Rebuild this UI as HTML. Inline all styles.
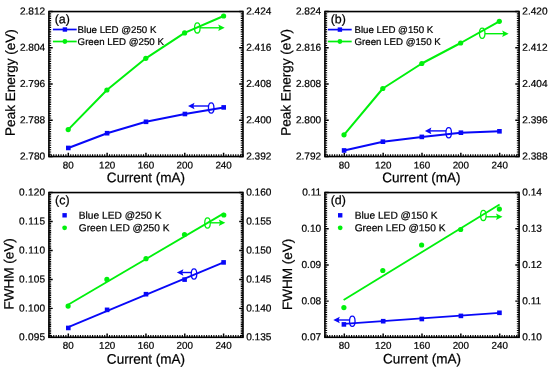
<!DOCTYPE html>
<html><head><meta charset="utf-8"><title>LED peak energy and FWHM vs current</title>
<style>
html,body{margin:0;padding:0;background:#fff;}
svg{display:block;}
text{font-family:"Liberation Sans", sans-serif;fill:#000;stroke:#000;stroke-width:0.22px;}
</style></head>
<body>
<svg width="550" height="370" viewBox="0 0 550 370">
<rect width="550" height="370" fill="#fff"/>
<path d="M48.90 156.55v-2.25M51.33 156.55v-2.25M53.75 156.55v-2.25M56.18 156.55v-2.25M58.60 156.55v-2.25M61.03 156.55v-2.25M63.46 156.55v-2.25M65.88 156.55v-2.25M70.74 156.55v-2.25M73.16 156.55v-2.25M75.59 156.55v-2.25M78.02 156.55v-2.25M80.44 156.55v-2.25M82.87 156.55v-2.25M85.29 156.55v-2.25M87.72 156.55v-2.25M90.15 156.55v-2.25M92.57 156.55v-2.25M95.00 156.55v-2.25M97.42 156.55v-2.25M99.85 156.55v-2.25M102.28 156.55v-2.25M104.70 156.55v-2.25M109.56 156.55v-2.25M111.98 156.55v-2.25M114.41 156.55v-2.25M116.83 156.55v-2.25M119.26 156.55v-2.25M121.69 156.55v-2.25M124.11 156.55v-2.25M126.54 156.55v-2.25M128.97 156.55v-2.25M131.39 156.55v-2.25M133.82 156.55v-2.25M136.25 156.55v-2.25M138.67 156.55v-2.25M141.10 156.55v-2.25M143.52 156.55v-2.25M148.38 156.55v-2.25M150.80 156.55v-2.25M153.23 156.55v-2.25M155.66 156.55v-2.25M158.08 156.55v-2.25M160.51 156.55v-2.25M162.93 156.55v-2.25M165.36 156.55v-2.25M167.79 156.55v-2.25M170.21 156.55v-2.25M172.64 156.55v-2.25M175.06 156.55v-2.25M177.49 156.55v-2.25M179.92 156.55v-2.25M182.34 156.55v-2.25M187.20 156.55v-2.25M189.62 156.55v-2.25M192.05 156.55v-2.25M194.47 156.55v-2.25M196.90 156.55v-2.25M199.33 156.55v-2.25M201.75 156.55v-2.25M204.18 156.55v-2.25M206.61 156.55v-2.25M209.03 156.55v-2.25M211.46 156.55v-2.25M213.88 156.55v-2.25M216.31 156.55v-2.25M218.74 156.55v-2.25M221.16 156.55v-2.25M226.02 156.55v-2.25M228.44 156.55v-2.25M230.87 156.55v-2.25M233.29 156.55v-2.25M235.72 156.55v-2.25M238.15 156.55v-2.25M240.57 156.55v-2.25M243.00 156.55v-2.25M48.90 154.28h2.25M243.00 154.28h-2.25M48.90 152.02h2.25M243.00 152.02h-2.25M48.90 149.75h2.25M243.00 149.75h-2.25M48.90 147.49h2.25M243.00 147.49h-2.25M48.90 145.22h2.25M243.00 145.22h-2.25M48.90 142.96h2.25M243.00 142.96h-2.25M48.90 140.69h2.25M243.00 140.69h-2.25M48.90 138.43h2.25M243.00 138.43h-2.25M48.90 136.16h2.25M243.00 136.16h-2.25M48.90 133.89h2.25M243.00 133.89h-2.25M48.90 131.63h2.25M243.00 131.63h-2.25M48.90 129.36h2.25M243.00 129.36h-2.25M48.90 127.10h2.25M243.00 127.10h-2.25M48.90 124.83h2.25M243.00 124.83h-2.25M48.90 122.57h2.25M243.00 122.57h-2.25M48.90 118.03h2.25M243.00 118.03h-2.25M48.90 115.77h2.25M243.00 115.77h-2.25M48.90 113.50h2.25M243.00 113.50h-2.25M48.90 111.24h2.25M243.00 111.24h-2.25M48.90 108.97h2.25M243.00 108.97h-2.25M48.90 106.71h2.25M243.00 106.71h-2.25M48.90 104.44h2.25M243.00 104.44h-2.25M48.90 102.18h2.25M243.00 102.18h-2.25M48.90 99.91h2.25M243.00 99.91h-2.25M48.90 97.64h2.25M243.00 97.64h-2.25M48.90 95.38h2.25M243.00 95.38h-2.25M48.90 93.11h2.25M243.00 93.11h-2.25M48.90 90.85h2.25M243.00 90.85h-2.25M48.90 88.58h2.25M243.00 88.58h-2.25M48.90 86.32h2.25M243.00 86.32h-2.25M48.90 81.78h2.25M243.00 81.78h-2.25M48.90 79.52h2.25M243.00 79.52h-2.25M48.90 77.25h2.25M243.00 77.25h-2.25M48.90 74.99h2.25M243.00 74.99h-2.25M48.90 72.72h2.25M243.00 72.72h-2.25M48.90 70.46h2.25M243.00 70.46h-2.25M48.90 68.19h2.25M243.00 68.19h-2.25M48.90 65.93h2.25M243.00 65.93h-2.25M48.90 63.66h2.25M243.00 63.66h-2.25M48.90 61.39h2.25M243.00 61.39h-2.25M48.90 59.13h2.25M243.00 59.13h-2.25M48.90 56.86h2.25M243.00 56.86h-2.25M48.90 54.60h2.25M243.00 54.60h-2.25M48.90 52.33h2.25M243.00 52.33h-2.25M48.90 50.07h2.25M243.00 50.07h-2.25M48.90 45.53h2.25M243.00 45.53h-2.25M48.90 43.27h2.25M243.00 43.27h-2.25M48.90 41.00h2.25M243.00 41.00h-2.25M48.90 38.74h2.25M243.00 38.74h-2.25M48.90 36.47h2.25M243.00 36.47h-2.25M48.90 34.21h2.25M243.00 34.21h-2.25M48.90 31.94h2.25M243.00 31.94h-2.25M48.90 29.68h2.25M243.00 29.68h-2.25M48.90 27.41h2.25M243.00 27.41h-2.25M48.90 25.14h2.25M243.00 25.14h-2.25M48.90 22.88h2.25M243.00 22.88h-2.25M48.90 20.61h2.25M243.00 20.61h-2.25M48.90 18.35h2.25M243.00 18.35h-2.25M48.90 16.08h2.25M243.00 16.08h-2.25M48.90 13.82h2.25M243.00 13.82h-2.25" stroke="#000" stroke-width="1.15" fill="none"/>
<path d="M68.31 156.55v-3.80M107.13 156.55v-3.80M145.95 156.55v-3.80M184.77 156.55v-3.80M223.59 156.55v-3.80M48.90 156.55h3.80M243.00 156.55h-3.80M48.90 120.30h3.80M243.00 120.30h-3.80M48.90 84.05h3.80M243.00 84.05h-3.80M48.90 47.80h3.80M243.00 47.80h-3.80M48.90 11.55h3.80M243.00 11.55h-3.80" stroke="#000" stroke-width="1.45" fill="none"/>
<path d="M68.30 147.95L107.10 133.20L146.00 121.80L184.90 114.00L223.70 107.40" stroke="#0808f8" stroke-width="2.0" fill="none" stroke-linejoin="round"/>
<rect x="66.00" y="145.65" width="4.6" height="4.6" fill="#0808f8"/>
<rect x="104.80" y="130.90" width="4.6" height="4.6" fill="#0808f8"/>
<rect x="143.70" y="119.50" width="4.6" height="4.6" fill="#0808f8"/>
<rect x="182.60" y="111.70" width="4.6" height="4.6" fill="#0808f8"/>
<rect x="221.40" y="105.10" width="4.6" height="4.6" fill="#0808f8"/>
<path d="M68.20 129.60L106.90 90.00L145.80 58.30L184.60 32.90L223.60 16.00" stroke="#00f00c" stroke-width="2.0" fill="none" stroke-linejoin="round"/>
<circle cx="68.20" cy="129.60" r="2.6" fill="#00f00c"/>
<circle cx="106.90" cy="90.00" r="2.6" fill="#00f00c"/>
<circle cx="145.80" cy="58.30" r="2.6" fill="#00f00c"/>
<circle cx="184.60" cy="32.90" r="2.6" fill="#00f00c"/>
<circle cx="223.60" cy="16.00" r="2.6" fill="#00f00c"/>
<rect x="48.9" y="11.55" width="194.10" height="145.00" fill="none" stroke="#000" stroke-width="1.6"/>
<text transform="translate(45.15 159.60) rotate(0.03)" text-anchor="end" font-size="10.1">2.780</text>
<text transform="translate(45.15 123.35) rotate(0.03)" text-anchor="end" font-size="10.1">2.788</text>
<text transform="translate(45.15 87.10) rotate(0.03)" text-anchor="end" font-size="10.1">2.796</text>
<text transform="translate(45.15 50.85) rotate(0.03)" text-anchor="end" font-size="10.1">2.804</text>
<text transform="translate(45.15 14.60) rotate(0.03)" text-anchor="end" font-size="10.1">2.812</text>
<text transform="translate(246.20 159.60) rotate(0.03)" font-size="10.1">2.392</text>
<text transform="translate(246.20 123.35) rotate(0.03)" font-size="10.1">2.400</text>
<text transform="translate(246.20 87.10) rotate(0.03)" font-size="10.1">2.408</text>
<text transform="translate(246.20 50.85) rotate(0.03)" font-size="10.1">2.416</text>
<text transform="translate(246.20 14.60) rotate(0.03)" font-size="10.1">2.424</text>
<text transform="translate(68.31 168.45) rotate(0.03)" text-anchor="middle" font-size="9.8">80</text>
<text transform="translate(107.13 168.45) rotate(0.03)" text-anchor="middle" font-size="9.8">120</text>
<text transform="translate(145.95 168.45) rotate(0.03)" text-anchor="middle" font-size="9.8">160</text>
<text transform="translate(184.77 168.45) rotate(0.03)" text-anchor="middle" font-size="9.8">200</text>
<text transform="translate(223.59 168.45) rotate(0.03)" text-anchor="middle" font-size="9.8">240</text>
<text transform="translate(145.95 182.25) rotate(0.03)" text-anchor="middle" font-size="13.9" textLength="78.2" lengthAdjust="spacingAndGlyphs">Current (mA)</text>
<text transform="translate(14.90 82.55) rotate(-89.97)" text-anchor="middle" font-size="13.5" textLength="106.7" lengthAdjust="spacingAndGlyphs">Peak Energy (eV)</text>
<text transform="translate(54.70 23.35) rotate(0.03)" font-size="12.4">(a)</text>
<path d="M52.90 29.50h23.8" stroke="#0808f8" stroke-width="1.7"/>
<rect x="62.70" y="27.30" width="4.4" height="4.4" fill="#0808f8"/>
<text transform="translate(77.60 32.90) rotate(0.03)" font-size="9.7">Blue LED @250 K</text>
<path d="M52.90 41.50h23.8" stroke="#00f00c" stroke-width="1.7"/>
<circle cx="64.90" cy="41.50" r="2.4" fill="#00f00c"/>
<text transform="translate(77.60 44.90) rotate(0.03)" font-size="9.7">Green LED @250 K</text>
<ellipse cx="197.3" cy="27.9" rx="2.75" ry="5.1" fill="none" stroke="#00f00c" stroke-width="1.3"/>
<path d="M200 27.8H221.7" fill="none" stroke="#00f00c" stroke-width="1.4"/>
<path d="M224.7 27.8L218.20 24.50L219.40 27.8L218.20 31.10Z" fill="#00f00c"/>
<ellipse cx="211.2" cy="108" rx="2.75" ry="5.1" fill="none" stroke="#0808f8" stroke-width="1.3"/>
<path d="M209 106H191" fill="none" stroke="#0808f8" stroke-width="1.4"/>
<path d="M188 106L194.50 102.70L193.30 106L194.50 109.30Z" fill="#0808f8"/>
<path d="M324.90 156.55v-2.25M327.33 156.55v-2.25M329.75 156.55v-2.25M332.18 156.55v-2.25M334.61 156.55v-2.25M337.04 156.55v-2.25M339.46 156.55v-2.25M341.89 156.55v-2.25M346.75 156.55v-2.25M349.17 156.55v-2.25M351.60 156.55v-2.25M354.03 156.55v-2.25M356.46 156.55v-2.25M358.88 156.55v-2.25M361.31 156.55v-2.25M363.74 156.55v-2.25M366.17 156.55v-2.25M368.59 156.55v-2.25M371.02 156.55v-2.25M373.45 156.55v-2.25M375.88 156.55v-2.25M378.31 156.55v-2.25M380.73 156.55v-2.25M385.59 156.55v-2.25M388.01 156.55v-2.25M390.44 156.55v-2.25M392.87 156.55v-2.25M395.30 156.55v-2.25M397.73 156.55v-2.25M400.15 156.55v-2.25M402.58 156.55v-2.25M405.01 156.55v-2.25M407.44 156.55v-2.25M409.86 156.55v-2.25M412.29 156.55v-2.25M414.72 156.55v-2.25M417.14 156.55v-2.25M419.57 156.55v-2.25M424.43 156.55v-2.25M426.86 156.55v-2.25M429.28 156.55v-2.25M431.71 156.55v-2.25M434.14 156.55v-2.25M436.56 156.55v-2.25M438.99 156.55v-2.25M441.42 156.55v-2.25M443.85 156.55v-2.25M446.27 156.55v-2.25M448.70 156.55v-2.25M451.13 156.55v-2.25M453.56 156.55v-2.25M455.99 156.55v-2.25M458.41 156.55v-2.25M463.27 156.55v-2.25M465.69 156.55v-2.25M468.12 156.55v-2.25M470.55 156.55v-2.25M472.98 156.55v-2.25M475.41 156.55v-2.25M477.83 156.55v-2.25M480.26 156.55v-2.25M482.69 156.55v-2.25M485.12 156.55v-2.25M487.54 156.55v-2.25M489.97 156.55v-2.25M492.40 156.55v-2.25M494.83 156.55v-2.25M497.25 156.55v-2.25M502.11 156.55v-2.25M504.54 156.55v-2.25M506.96 156.55v-2.25M509.39 156.55v-2.25M511.82 156.55v-2.25M514.25 156.55v-2.25M516.67 156.55v-2.25M519.10 156.55v-2.25M324.90 154.28h2.25M519.10 154.28h-2.25M324.90 152.02h2.25M519.10 152.02h-2.25M324.90 149.75h2.25M519.10 149.75h-2.25M324.90 147.49h2.25M519.10 147.49h-2.25M324.90 145.22h2.25M519.10 145.22h-2.25M324.90 142.96h2.25M519.10 142.96h-2.25M324.90 140.69h2.25M519.10 140.69h-2.25M324.90 138.43h2.25M519.10 138.43h-2.25M324.90 136.16h2.25M519.10 136.16h-2.25M324.90 133.89h2.25M519.10 133.89h-2.25M324.90 131.63h2.25M519.10 131.63h-2.25M324.90 129.36h2.25M519.10 129.36h-2.25M324.90 127.10h2.25M519.10 127.10h-2.25M324.90 124.83h2.25M519.10 124.83h-2.25M324.90 122.57h2.25M519.10 122.57h-2.25M324.90 118.03h2.25M519.10 118.03h-2.25M324.90 115.77h2.25M519.10 115.77h-2.25M324.90 113.50h2.25M519.10 113.50h-2.25M324.90 111.24h2.25M519.10 111.24h-2.25M324.90 108.97h2.25M519.10 108.97h-2.25M324.90 106.71h2.25M519.10 106.71h-2.25M324.90 104.44h2.25M519.10 104.44h-2.25M324.90 102.18h2.25M519.10 102.18h-2.25M324.90 99.91h2.25M519.10 99.91h-2.25M324.90 97.64h2.25M519.10 97.64h-2.25M324.90 95.38h2.25M519.10 95.38h-2.25M324.90 93.11h2.25M519.10 93.11h-2.25M324.90 90.85h2.25M519.10 90.85h-2.25M324.90 88.58h2.25M519.10 88.58h-2.25M324.90 86.32h2.25M519.10 86.32h-2.25M324.90 81.78h2.25M519.10 81.78h-2.25M324.90 79.52h2.25M519.10 79.52h-2.25M324.90 77.25h2.25M519.10 77.25h-2.25M324.90 74.99h2.25M519.10 74.99h-2.25M324.90 72.72h2.25M519.10 72.72h-2.25M324.90 70.46h2.25M519.10 70.46h-2.25M324.90 68.19h2.25M519.10 68.19h-2.25M324.90 65.93h2.25M519.10 65.93h-2.25M324.90 63.66h2.25M519.10 63.66h-2.25M324.90 61.39h2.25M519.10 61.39h-2.25M324.90 59.13h2.25M519.10 59.13h-2.25M324.90 56.86h2.25M519.10 56.86h-2.25M324.90 54.60h2.25M519.10 54.60h-2.25M324.90 52.33h2.25M519.10 52.33h-2.25M324.90 50.07h2.25M519.10 50.07h-2.25M324.90 45.53h2.25M519.10 45.53h-2.25M324.90 43.27h2.25M519.10 43.27h-2.25M324.90 41.00h2.25M519.10 41.00h-2.25M324.90 38.74h2.25M519.10 38.74h-2.25M324.90 36.47h2.25M519.10 36.47h-2.25M324.90 34.21h2.25M519.10 34.21h-2.25M324.90 31.94h2.25M519.10 31.94h-2.25M324.90 29.68h2.25M519.10 29.68h-2.25M324.90 27.41h2.25M519.10 27.41h-2.25M324.90 25.14h2.25M519.10 25.14h-2.25M324.90 22.88h2.25M519.10 22.88h-2.25M324.90 20.61h2.25M519.10 20.61h-2.25M324.90 18.35h2.25M519.10 18.35h-2.25M324.90 16.08h2.25M519.10 16.08h-2.25M324.90 13.82h2.25M519.10 13.82h-2.25" stroke="#000" stroke-width="1.15" fill="none"/>
<path d="M344.32 156.55v-3.80M383.16 156.55v-3.80M422.00 156.55v-3.80M460.84 156.55v-3.80M499.68 156.55v-3.80M324.90 156.55h3.80M519.10 156.55h-3.80M324.90 120.30h3.80M519.10 120.30h-3.80M324.90 84.05h3.80M519.10 84.05h-3.80M324.90 47.80h3.80M519.10 47.80h-3.80M324.90 11.55h3.80M519.10 11.55h-3.80" stroke="#000" stroke-width="1.45" fill="none"/>
<path d="M344.10 150.45L382.90 141.70L421.80 136.90L460.90 132.70L499.45 131.30" stroke="#0808f8" stroke-width="2.0" fill="none" stroke-linejoin="round"/>
<rect x="341.80" y="148.15" width="4.6" height="4.6" fill="#0808f8"/>
<rect x="380.60" y="139.40" width="4.6" height="4.6" fill="#0808f8"/>
<rect x="419.50" y="134.60" width="4.6" height="4.6" fill="#0808f8"/>
<rect x="458.60" y="130.40" width="4.6" height="4.6" fill="#0808f8"/>
<rect x="497.15" y="129.00" width="4.6" height="4.6" fill="#0808f8"/>
<path d="M344.00 134.85L382.80 88.50L421.80 63.50L460.65 43.00L499.30 21.35" stroke="#00f00c" stroke-width="2.0" fill="none" stroke-linejoin="round"/>
<circle cx="344.00" cy="134.85" r="2.6" fill="#00f00c"/>
<circle cx="382.80" cy="88.50" r="2.6" fill="#00f00c"/>
<circle cx="421.80" cy="63.50" r="2.6" fill="#00f00c"/>
<circle cx="460.65" cy="43.00" r="2.6" fill="#00f00c"/>
<circle cx="499.30" cy="21.35" r="2.6" fill="#00f00c"/>
<rect x="324.9" y="11.55" width="194.20" height="145.00" fill="none" stroke="#000" stroke-width="1.6"/>
<text transform="translate(321.15 159.60) rotate(0.03)" text-anchor="end" font-size="10.1">2.792</text>
<text transform="translate(321.15 123.35) rotate(0.03)" text-anchor="end" font-size="10.1">2.800</text>
<text transform="translate(321.15 87.10) rotate(0.03)" text-anchor="end" font-size="10.1">2.808</text>
<text transform="translate(321.15 50.85) rotate(0.03)" text-anchor="end" font-size="10.1">2.816</text>
<text transform="translate(321.15 14.60) rotate(0.03)" text-anchor="end" font-size="10.1">2.824</text>
<text transform="translate(522.30 159.60) rotate(0.03)" font-size="10.1">2.388</text>
<text transform="translate(522.30 123.35) rotate(0.03)" font-size="10.1">2.396</text>
<text transform="translate(522.30 87.10) rotate(0.03)" font-size="10.1">2.404</text>
<text transform="translate(522.30 50.85) rotate(0.03)" font-size="10.1">2.412</text>
<text transform="translate(522.30 14.60) rotate(0.03)" font-size="10.1">2.420</text>
<text transform="translate(344.32 168.45) rotate(0.03)" text-anchor="middle" font-size="9.8">80</text>
<text transform="translate(383.16 168.45) rotate(0.03)" text-anchor="middle" font-size="9.8">120</text>
<text transform="translate(422.00 168.45) rotate(0.03)" text-anchor="middle" font-size="9.8">160</text>
<text transform="translate(460.84 168.45) rotate(0.03)" text-anchor="middle" font-size="9.8">200</text>
<text transform="translate(499.68 168.45) rotate(0.03)" text-anchor="middle" font-size="9.8">240</text>
<text transform="translate(421.40 182.25) rotate(0.03)" text-anchor="middle" font-size="13.9" textLength="78.2" lengthAdjust="spacingAndGlyphs">Current (mA)</text>
<text transform="translate(290.50 82.45) rotate(-89.97)" text-anchor="middle" font-size="13.5" textLength="106.7" lengthAdjust="spacingAndGlyphs">Peak Energy (eV)</text>
<text transform="translate(330.70 23.35) rotate(0.03)" font-size="12.4">(b)</text>
<path d="M327.90 29.60h23.8" stroke="#0808f8" stroke-width="1.7"/>
<rect x="337.70" y="27.40" width="4.4" height="4.4" fill="#0808f8"/>
<text transform="translate(354.50 33.00) rotate(0.03)" font-size="9.7">Blue LED @150 K</text>
<path d="M327.90 41.50h23.8" stroke="#00f00c" stroke-width="1.7"/>
<circle cx="339.90" cy="41.50" r="2.4" fill="#00f00c"/>
<text transform="translate(354.50 44.90) rotate(0.03)" font-size="9.7">Green LED @150 K</text>
<ellipse cx="482.2" cy="33.3" rx="2.75" ry="5.1" fill="none" stroke="#00f00c" stroke-width="1.3"/>
<path d="M485 33.7H505.65" fill="none" stroke="#00f00c" stroke-width="1.4"/>
<path d="M508.65 33.7L502.15 30.40L503.35 33.7L502.15 37.00Z" fill="#00f00c"/>
<ellipse cx="448.7" cy="132.7" rx="2.75" ry="5.1" fill="none" stroke="#0808f8" stroke-width="1.3"/>
<path d="M446 130.9H427.9" fill="none" stroke="#0808f8" stroke-width="1.4"/>
<path d="M424.9 130.9L431.40 127.60L430.20 130.9L431.40 134.20Z" fill="#0808f8"/>
<path d="M48.90 337.30v-2.25M51.33 337.30v-2.25M53.75 337.30v-2.25M56.18 337.30v-2.25M58.60 337.30v-2.25M61.03 337.30v-2.25M63.46 337.30v-2.25M65.88 337.30v-2.25M70.74 337.30v-2.25M73.16 337.30v-2.25M75.59 337.30v-2.25M78.02 337.30v-2.25M80.44 337.30v-2.25M82.87 337.30v-2.25M85.29 337.30v-2.25M87.72 337.30v-2.25M90.15 337.30v-2.25M92.57 337.30v-2.25M95.00 337.30v-2.25M97.42 337.30v-2.25M99.85 337.30v-2.25M102.28 337.30v-2.25M104.70 337.30v-2.25M109.56 337.30v-2.25M111.98 337.30v-2.25M114.41 337.30v-2.25M116.83 337.30v-2.25M119.26 337.30v-2.25M121.69 337.30v-2.25M124.11 337.30v-2.25M126.54 337.30v-2.25M128.97 337.30v-2.25M131.39 337.30v-2.25M133.82 337.30v-2.25M136.25 337.30v-2.25M138.67 337.30v-2.25M141.10 337.30v-2.25M143.52 337.30v-2.25M148.38 337.30v-2.25M150.80 337.30v-2.25M153.23 337.30v-2.25M155.66 337.30v-2.25M158.08 337.30v-2.25M160.51 337.30v-2.25M162.93 337.30v-2.25M165.36 337.30v-2.25M167.79 337.30v-2.25M170.21 337.30v-2.25M172.64 337.30v-2.25M175.06 337.30v-2.25M177.49 337.30v-2.25M179.92 337.30v-2.25M182.34 337.30v-2.25M187.20 337.30v-2.25M189.62 337.30v-2.25M192.05 337.30v-2.25M194.47 337.30v-2.25M196.90 337.30v-2.25M199.33 337.30v-2.25M201.75 337.30v-2.25M204.18 337.30v-2.25M206.61 337.30v-2.25M209.03 337.30v-2.25M211.46 337.30v-2.25M213.88 337.30v-2.25M216.31 337.30v-2.25M218.74 337.30v-2.25M221.16 337.30v-2.25M226.02 337.30v-2.25M228.44 337.30v-2.25M230.87 337.30v-2.25M233.29 337.30v-2.25M235.72 337.30v-2.25M238.15 337.30v-2.25M240.57 337.30v-2.25M243.00 337.30v-2.25M48.90 335.49h2.25M243.00 335.49h-2.25M48.90 333.68h2.25M243.00 333.68h-2.25M48.90 331.87h2.25M243.00 331.87h-2.25M48.90 330.06h2.25M243.00 330.06h-2.25M48.90 328.25h2.25M243.00 328.25h-2.25M48.90 326.44h2.25M243.00 326.44h-2.25M48.90 324.63h2.25M243.00 324.63h-2.25M48.90 322.82h2.25M243.00 322.82h-2.25M48.90 321.02h2.25M243.00 321.02h-2.25M48.90 319.21h2.25M243.00 319.21h-2.25M48.90 317.40h2.25M243.00 317.40h-2.25M48.90 315.59h2.25M243.00 315.59h-2.25M48.90 313.78h2.25M243.00 313.78h-2.25M48.90 311.97h2.25M243.00 311.97h-2.25M48.90 310.16h2.25M243.00 310.16h-2.25M48.90 306.54h2.25M243.00 306.54h-2.25M48.90 304.73h2.25M243.00 304.73h-2.25M48.90 302.92h2.25M243.00 302.92h-2.25M48.90 301.11h2.25M243.00 301.11h-2.25M48.90 299.30h2.25M243.00 299.30h-2.25M48.90 297.49h2.25M243.00 297.49h-2.25M48.90 295.68h2.25M243.00 295.68h-2.25M48.90 293.88h2.25M243.00 293.88h-2.25M48.90 292.07h2.25M243.00 292.07h-2.25M48.90 290.26h2.25M243.00 290.26h-2.25M48.90 288.45h2.25M243.00 288.45h-2.25M48.90 286.64h2.25M243.00 286.64h-2.25M48.90 284.83h2.25M243.00 284.83h-2.25M48.90 283.02h2.25M243.00 283.02h-2.25M48.90 281.21h2.25M243.00 281.21h-2.25M48.90 277.59h2.25M243.00 277.59h-2.25M48.90 275.78h2.25M243.00 275.78h-2.25M48.90 273.97h2.25M243.00 273.97h-2.25M48.90 272.16h2.25M243.00 272.16h-2.25M48.90 270.35h2.25M243.00 270.35h-2.25M48.90 268.54h2.25M243.00 268.54h-2.25M48.90 266.73h2.25M243.00 266.73h-2.25M48.90 264.93h2.25M243.00 264.93h-2.25M48.90 263.12h2.25M243.00 263.12h-2.25M48.90 261.31h2.25M243.00 261.31h-2.25M48.90 259.50h2.25M243.00 259.50h-2.25M48.90 257.69h2.25M243.00 257.69h-2.25M48.90 255.88h2.25M243.00 255.88h-2.25M48.90 254.07h2.25M243.00 254.07h-2.25M48.90 252.26h2.25M243.00 252.26h-2.25M48.90 248.64h2.25M243.00 248.64h-2.25M48.90 246.83h2.25M243.00 246.83h-2.25M48.90 245.02h2.25M243.00 245.02h-2.25M48.90 243.21h2.25M243.00 243.21h-2.25M48.90 241.40h2.25M243.00 241.40h-2.25M48.90 239.59h2.25M243.00 239.59h-2.25M48.90 237.78h2.25M243.00 237.78h-2.25M48.90 235.98h2.25M243.00 235.98h-2.25M48.90 234.17h2.25M243.00 234.17h-2.25M48.90 232.36h2.25M243.00 232.36h-2.25M48.90 230.55h2.25M243.00 230.55h-2.25M48.90 228.74h2.25M243.00 228.74h-2.25M48.90 226.93h2.25M243.00 226.93h-2.25M48.90 225.12h2.25M243.00 225.12h-2.25M48.90 223.31h2.25M243.00 223.31h-2.25M48.90 219.69h2.25M243.00 219.69h-2.25M48.90 217.88h2.25M243.00 217.88h-2.25M48.90 216.07h2.25M243.00 216.07h-2.25M48.90 214.26h2.25M243.00 214.26h-2.25M48.90 212.45h2.25M243.00 212.45h-2.25M48.90 210.64h2.25M243.00 210.64h-2.25M48.90 208.83h2.25M243.00 208.83h-2.25M48.90 207.03h2.25M243.00 207.03h-2.25M48.90 205.22h2.25M243.00 205.22h-2.25M48.90 203.41h2.25M243.00 203.41h-2.25M48.90 201.60h2.25M243.00 201.60h-2.25M48.90 199.79h2.25M243.00 199.79h-2.25M48.90 197.98h2.25M243.00 197.98h-2.25M48.90 196.17h2.25M243.00 196.17h-2.25M48.90 194.36h2.25M243.00 194.36h-2.25" stroke="#000" stroke-width="1.15" fill="none"/>
<path d="M68.31 337.30v-3.80M107.13 337.30v-3.80M145.95 337.30v-3.80M184.77 337.30v-3.80M223.59 337.30v-3.80M48.90 337.30h3.80M243.00 337.30h-3.80M48.90 308.35h3.80M243.00 308.35h-3.80M48.90 279.40h3.80M243.00 279.40h-3.80M48.90 250.45h3.80M243.00 250.45h-3.80M48.90 221.50h3.80M243.00 221.50h-3.80M48.90 192.55h3.80M243.00 192.55h-3.80" stroke="#000" stroke-width="1.45" fill="none"/>
<path d="M68.30 327.10L223.60 262.40" stroke="#0808f8" stroke-width="1.8" fill="none" stroke-linejoin="round"/>
<rect x="66.00" y="325.65" width="4.6" height="4.6" fill="#0808f8"/>
<rect x="104.80" y="307.55" width="4.6" height="4.6" fill="#0808f8"/>
<rect x="143.70" y="291.90" width="4.6" height="4.6" fill="#0808f8"/>
<rect x="182.30" y="277.30" width="4.6" height="4.6" fill="#0808f8"/>
<rect x="221.30" y="260.10" width="4.6" height="4.6" fill="#0808f8"/>
<path d="M68.10 304.70L223.80 213.40" stroke="#00f00c" stroke-width="1.8" fill="none" stroke-linejoin="round"/>
<circle cx="68.10" cy="306.10" r="2.6" fill="#00f00c"/>
<circle cx="106.90" cy="279.45" r="2.6" fill="#00f00c"/>
<circle cx="146.00" cy="258.70" r="2.6" fill="#00f00c"/>
<circle cx="184.50" cy="234.50" r="2.6" fill="#00f00c"/>
<circle cx="223.80" cy="215.00" r="2.6" fill="#00f00c"/>
<rect x="48.9" y="192.55" width="194.10" height="144.75" fill="none" stroke="#000" stroke-width="1.6"/>
<text transform="translate(45.15 340.35) rotate(0.03)" text-anchor="end" font-size="10.1" textLength="26.1">0.095</text>
<text transform="translate(45.15 311.40) rotate(0.03)" text-anchor="end" font-size="10.1" textLength="26.1">0.100</text>
<text transform="translate(45.15 282.45) rotate(0.03)" text-anchor="end" font-size="10.1" textLength="26.1">0.105</text>
<text transform="translate(45.15 253.50) rotate(0.03)" text-anchor="end" font-size="10.1" textLength="26.1">0.110</text>
<text transform="translate(45.15 224.55) rotate(0.03)" text-anchor="end" font-size="10.1" textLength="26.1">0.115</text>
<text transform="translate(45.15 195.60) rotate(0.03)" text-anchor="end" font-size="10.1" textLength="26.1">0.120</text>
<text transform="translate(246.20 340.35) rotate(0.03)" font-size="10.1">0.135</text>
<text transform="translate(246.20 311.40) rotate(0.03)" font-size="10.1">0.140</text>
<text transform="translate(246.20 282.45) rotate(0.03)" font-size="10.1">0.145</text>
<text transform="translate(246.20 253.50) rotate(0.03)" font-size="10.1">0.150</text>
<text transform="translate(246.20 224.55) rotate(0.03)" font-size="10.1">0.155</text>
<text transform="translate(246.20 195.60) rotate(0.03)" font-size="10.1">0.160</text>
<text transform="translate(68.31 348.70) rotate(0.03)" text-anchor="middle" font-size="9.8">80</text>
<text transform="translate(107.13 348.70) rotate(0.03)" text-anchor="middle" font-size="9.8">120</text>
<text transform="translate(145.95 348.70) rotate(0.03)" text-anchor="middle" font-size="9.8">160</text>
<text transform="translate(184.77 348.70) rotate(0.03)" text-anchor="middle" font-size="9.8">200</text>
<text transform="translate(223.59 348.70) rotate(0.03)" text-anchor="middle" font-size="9.8">240</text>
<text transform="translate(145.95 363.70) rotate(0.03)" text-anchor="middle" font-size="13.9" textLength="78.2" lengthAdjust="spacingAndGlyphs">Current (mA)</text>
<text transform="translate(13.40 273.82) rotate(-89.97)" text-anchor="middle" font-size="13.5" textLength="71.3" lengthAdjust="spacingAndGlyphs">FWHM (eV)</text>
<text transform="translate(55.10 204.35) rotate(0.03)" font-size="12.4">(c)</text>
<rect x="62.40" y="213.10" width="4.4" height="4.4" fill="#0808f8"/>
<text transform="translate(78.80 218.70) rotate(0.03)" font-size="10.2">Blue LED @250 K</text>
<circle cx="64.60" cy="227.80" r="2.4" fill="#00f00c"/>
<text transform="translate(78.80 231.20) rotate(0.03)" font-size="10.2">Green LED @250 K</text>
<ellipse cx="207.5" cy="223" rx="2.75" ry="5.1" fill="none" stroke="#00f00c" stroke-width="1.3"/>
<path d="M210 222.8H222.3" fill="none" stroke="#00f00c" stroke-width="1.4"/>
<path d="M225.3 222.8L218.80 219.50L220.00 222.8L218.80 226.10Z" fill="#00f00c"/>
<ellipse cx="194" cy="274" rx="2.75" ry="5.1" fill="none" stroke="#0808f8" stroke-width="1.3"/>
<path d="M191.5 272.5H179.9" fill="none" stroke="#0808f8" stroke-width="1.4"/>
<path d="M176.9 272.5L183.40 269.20L182.20 272.5L183.40 275.80Z" fill="#0808f8"/>
<path d="M324.90 337.30v-2.25M327.33 337.30v-2.25M329.75 337.30v-2.25M332.18 337.30v-2.25M334.61 337.30v-2.25M337.04 337.30v-2.25M339.46 337.30v-2.25M341.89 337.30v-2.25M346.75 337.30v-2.25M349.17 337.30v-2.25M351.60 337.30v-2.25M354.03 337.30v-2.25M356.46 337.30v-2.25M358.88 337.30v-2.25M361.31 337.30v-2.25M363.74 337.30v-2.25M366.17 337.30v-2.25M368.59 337.30v-2.25M371.02 337.30v-2.25M373.45 337.30v-2.25M375.88 337.30v-2.25M378.31 337.30v-2.25M380.73 337.30v-2.25M385.59 337.30v-2.25M388.01 337.30v-2.25M390.44 337.30v-2.25M392.87 337.30v-2.25M395.30 337.30v-2.25M397.73 337.30v-2.25M400.15 337.30v-2.25M402.58 337.30v-2.25M405.01 337.30v-2.25M407.44 337.30v-2.25M409.86 337.30v-2.25M412.29 337.30v-2.25M414.72 337.30v-2.25M417.14 337.30v-2.25M419.57 337.30v-2.25M424.43 337.30v-2.25M426.86 337.30v-2.25M429.28 337.30v-2.25M431.71 337.30v-2.25M434.14 337.30v-2.25M436.56 337.30v-2.25M438.99 337.30v-2.25M441.42 337.30v-2.25M443.85 337.30v-2.25M446.27 337.30v-2.25M448.70 337.30v-2.25M451.13 337.30v-2.25M453.56 337.30v-2.25M455.99 337.30v-2.25M458.41 337.30v-2.25M463.27 337.30v-2.25M465.69 337.30v-2.25M468.12 337.30v-2.25M470.55 337.30v-2.25M472.98 337.30v-2.25M475.41 337.30v-2.25M477.83 337.30v-2.25M480.26 337.30v-2.25M482.69 337.30v-2.25M485.12 337.30v-2.25M487.54 337.30v-2.25M489.97 337.30v-2.25M492.40 337.30v-2.25M494.83 337.30v-2.25M497.25 337.30v-2.25M502.11 337.30v-2.25M504.54 337.30v-2.25M506.96 337.30v-2.25M509.39 337.30v-2.25M511.82 337.30v-2.25M514.25 337.30v-2.25M516.67 337.30v-2.25M519.10 337.30v-2.25M324.90 335.04h2.25M519.10 335.04h-2.25M324.90 332.78h2.25M519.10 332.78h-2.25M324.90 330.51h2.25M519.10 330.51h-2.25M324.90 328.25h2.25M519.10 328.25h-2.25M324.90 325.99h2.25M519.10 325.99h-2.25M324.90 323.73h2.25M519.10 323.73h-2.25M324.90 321.47h2.25M519.10 321.47h-2.25M324.90 319.21h2.25M519.10 319.21h-2.25M324.90 316.94h2.25M519.10 316.94h-2.25M324.90 314.68h2.25M519.10 314.68h-2.25M324.90 312.42h2.25M519.10 312.42h-2.25M324.90 310.16h2.25M519.10 310.16h-2.25M324.90 307.90h2.25M519.10 307.90h-2.25M324.90 305.64h2.25M519.10 305.64h-2.25M324.90 303.37h2.25M519.10 303.37h-2.25M324.90 298.85h2.25M519.10 298.85h-2.25M324.90 296.59h2.25M519.10 296.59h-2.25M324.90 294.33h2.25M519.10 294.33h-2.25M324.90 292.07h2.25M519.10 292.07h-2.25M324.90 289.80h2.25M519.10 289.80h-2.25M324.90 287.54h2.25M519.10 287.54h-2.25M324.90 285.28h2.25M519.10 285.28h-2.25M324.90 283.02h2.25M519.10 283.02h-2.25M324.90 280.76h2.25M519.10 280.76h-2.25M324.90 278.50h2.25M519.10 278.50h-2.25M324.90 276.23h2.25M519.10 276.23h-2.25M324.90 273.97h2.25M519.10 273.97h-2.25M324.90 271.71h2.25M519.10 271.71h-2.25M324.90 269.45h2.25M519.10 269.45h-2.25M324.90 267.19h2.25M519.10 267.19h-2.25M324.90 262.66h2.25M519.10 262.66h-2.25M324.90 260.40h2.25M519.10 260.40h-2.25M324.90 258.14h2.25M519.10 258.14h-2.25M324.90 255.88h2.25M519.10 255.88h-2.25M324.90 253.62h2.25M519.10 253.62h-2.25M324.90 251.35h2.25M519.10 251.35h-2.25M324.90 249.09h2.25M519.10 249.09h-2.25M324.90 246.83h2.25M519.10 246.83h-2.25M324.90 244.57h2.25M519.10 244.57h-2.25M324.90 242.31h2.25M519.10 242.31h-2.25M324.90 240.05h2.25M519.10 240.05h-2.25M324.90 237.78h2.25M519.10 237.78h-2.25M324.90 235.52h2.25M519.10 235.52h-2.25M324.90 233.26h2.25M519.10 233.26h-2.25M324.90 231.00h2.25M519.10 231.00h-2.25M324.90 226.48h2.25M519.10 226.48h-2.25M324.90 224.21h2.25M519.10 224.21h-2.25M324.90 221.95h2.25M519.10 221.95h-2.25M324.90 219.69h2.25M519.10 219.69h-2.25M324.90 217.43h2.25M519.10 217.43h-2.25M324.90 215.17h2.25M519.10 215.17h-2.25M324.90 212.91h2.25M519.10 212.91h-2.25M324.90 210.64h2.25M519.10 210.64h-2.25M324.90 208.38h2.25M519.10 208.38h-2.25M324.90 206.12h2.25M519.10 206.12h-2.25M324.90 203.86h2.25M519.10 203.86h-2.25M324.90 201.60h2.25M519.10 201.60h-2.25M324.90 199.34h2.25M519.10 199.34h-2.25M324.90 197.07h2.25M519.10 197.07h-2.25M324.90 194.81h2.25M519.10 194.81h-2.25" stroke="#000" stroke-width="1.15" fill="none"/>
<path d="M344.32 337.30v-3.80M383.16 337.30v-3.80M422.00 337.30v-3.80M460.84 337.30v-3.80M499.68 337.30v-3.80M324.90 337.30h3.80M519.10 337.30h-3.80M324.90 301.11h3.80M519.10 301.11h-3.80M324.90 264.93h3.80M519.10 264.93h-3.80M324.90 228.74h3.80M519.10 228.74h-3.80M324.90 192.55h3.80M519.10 192.55h-3.80" stroke="#000" stroke-width="1.45" fill="none"/>
<path d="M343.90 323.80L499.45 312.80" stroke="#0808f8" stroke-width="1.8" fill="none" stroke-linejoin="round"/>
<rect x="341.60" y="322.10" width="4.6" height="4.6" fill="#0808f8"/>
<rect x="380.90" y="318.90" width="4.6" height="4.6" fill="#0808f8"/>
<rect x="419.50" y="316.70" width="4.6" height="4.6" fill="#0808f8"/>
<rect x="458.60" y="313.60" width="4.6" height="4.6" fill="#0808f8"/>
<rect x="497.15" y="310.50" width="4.6" height="4.6" fill="#0808f8"/>
<path d="M343.60 300.10L499.60 204.45" stroke="#00f00c" stroke-width="1.8" fill="none" stroke-linejoin="round"/>
<circle cx="343.90" cy="307.60" r="2.6" fill="#00f00c"/>
<circle cx="382.80" cy="270.50" r="2.6" fill="#00f00c"/>
<circle cx="421.60" cy="245.00" r="2.6" fill="#00f00c"/>
<circle cx="460.65" cy="229.50" r="2.6" fill="#00f00c"/>
<circle cx="499.35" cy="209.10" r="2.6" fill="#00f00c"/>
<rect x="324.9" y="192.55" width="194.20" height="144.75" fill="none" stroke="#000" stroke-width="1.6"/>
<text transform="translate(321.15 340.35) rotate(0.03)" text-anchor="end" font-size="10.1">0.07</text>
<text transform="translate(321.15 304.16) rotate(0.03)" text-anchor="end" font-size="10.1">0.08</text>
<text transform="translate(321.15 267.98) rotate(0.03)" text-anchor="end" font-size="10.1">0.09</text>
<text transform="translate(321.15 231.79) rotate(0.03)" text-anchor="end" font-size="10.1">0.10</text>
<text transform="translate(321.15 195.60) rotate(0.03)" text-anchor="end" font-size="10.1">0.11</text>
<text transform="translate(522.30 340.35) rotate(0.03)" font-size="10.1">0.10</text>
<text transform="translate(522.30 304.16) rotate(0.03)" font-size="10.1">0.11</text>
<text transform="translate(522.30 267.98) rotate(0.03)" font-size="10.1">0.12</text>
<text transform="translate(522.30 231.79) rotate(0.03)" font-size="10.1">0.13</text>
<text transform="translate(522.30 195.60) rotate(0.03)" font-size="10.1">0.14</text>
<text transform="translate(344.32 348.70) rotate(0.03)" text-anchor="middle" font-size="9.8">80</text>
<text transform="translate(383.16 348.70) rotate(0.03)" text-anchor="middle" font-size="9.8">120</text>
<text transform="translate(422.00 348.70) rotate(0.03)" text-anchor="middle" font-size="9.8">160</text>
<text transform="translate(460.84 348.70) rotate(0.03)" text-anchor="middle" font-size="9.8">200</text>
<text transform="translate(499.68 348.70) rotate(0.03)" text-anchor="middle" font-size="9.8">240</text>
<text transform="translate(422.00 363.60) rotate(0.03)" text-anchor="middle" font-size="13.9" textLength="78.2" lengthAdjust="spacingAndGlyphs">Current (mA)</text>
<text transform="translate(291.90 274.43) rotate(-89.97)" text-anchor="middle" font-size="13.5" textLength="71.3" lengthAdjust="spacingAndGlyphs">FWHM (eV)</text>
<text transform="translate(330.70 204.35) rotate(0.03)" font-size="12.4">(d)</text>
<rect x="338.00" y="213.10" width="4.4" height="4.4" fill="#0808f8"/>
<text transform="translate(354.70 218.70) rotate(0.03)" font-size="10.2">Blue LED @150 K</text>
<circle cx="340.20" cy="227.80" r="2.4" fill="#00f00c"/>
<text transform="translate(354.70 231.20) rotate(0.03)" font-size="10.2">Green LED @150 K</text>
<ellipse cx="483.35" cy="215.4" rx="2.75" ry="5.1" fill="none" stroke="#00f00c" stroke-width="1.3"/>
<path d="M486 216.8H499.5" fill="none" stroke="#00f00c" stroke-width="1.4"/>
<path d="M502.5 216.8L496.00 213.50L497.20 216.8L496.00 220.10Z" fill="#00f00c"/>
<ellipse cx="352.3" cy="321.2" rx="2.75" ry="5.1" fill="none" stroke="#0808f8" stroke-width="1.3"/>
<path d="M350 320H336.3" fill="none" stroke="#0808f8" stroke-width="1.4"/>
<path d="M333.3 320L339.80 316.70L338.60 320L339.80 323.30Z" fill="#0808f8"/>
</svg>
</body></html>
